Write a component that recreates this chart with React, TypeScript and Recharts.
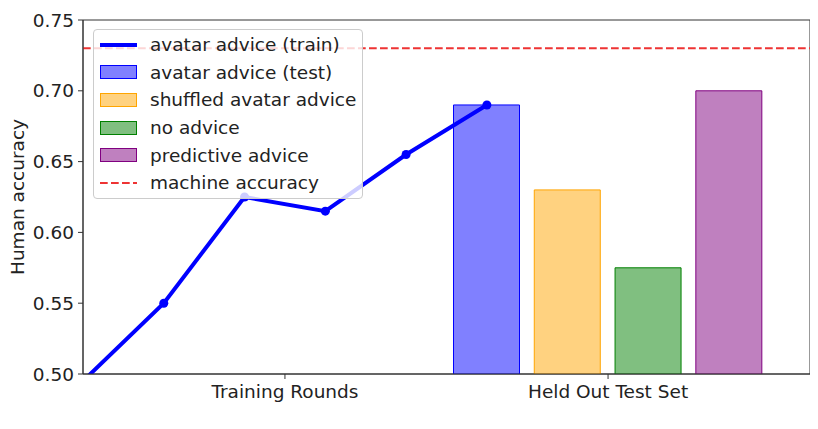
import { ComposedChart, Bar, Cell, Line, XAxis, YAxis, ReferenceLine, ReferenceArea } from "recharts";

// training rounds (line)
const trainRounds = [0, 1, 2, 3, 4, 5];
const trainAccuracy = [0.495, 0.55, 0.625, 0.615, 0.655, 0.69];

// held out test set (bars)
const testPositions = [5, 6, 7, 8];
const testNames = ["avatar advice (test)", "shuffled avatar advice", "no advice", "predictive advice"];
const testAccuracy = [0.69, 0.63, 0.575, 0.7];

const machineAccuracy = 0.73;

const yTicks = [0.5, 0.55, 0.6, 0.65, 0.7, 0.75];
const groupTicks = [2.5, 6.5];
const groupLabels = ["Training Rounds", "Held Out Test Set"];

const barFills = ["#8080ff", "#ffd280", "#80bf80", "#bf80bf"];
const barEdges = ["#0000ff", "#ffa500", "#008000", "#800080"];
const lineColor = "#0000ff";
const dashColor = "#ee3333";

const FONT = "DejaVu Sans";
const TEXT = "#222";
const FS = 18.5;

const rows: Array<{ x: number; train?: number; test?: number; idx?: number }> = [];
for (let x = 0; x <= 8; x++) {
  const row: { x: number; train?: number; test?: number; idx?: number } = { x };
  const ti = trainRounds.indexOf(x);
  if (ti >= 0) row.train = trainAccuracy[ti];
  const bi = testPositions.indexOf(x);
  if (bi >= 0) {
    row.test = testAccuracy[bi];
    row.idx = bi;
  }
  rows.push(row);
}

function LegendBox() {
  const items = [
    { name: "avatar advice (train)", kind: "line" },
    ...testNames.map((n, i) => ({ name: n, kind: "patch", i })),
    { name: "machine accuracy", kind: "dash" },
  ];
  return (
    <div
      style={{
        position: "absolute",
        left: 85,
        top: 21,
        width: 270,
        height: 170,
        border: "1px solid #cccccc",
        borderRadius: 4,
        background: "rgba(255,255,255,0.8)",
        paddingTop: 1,
        boxSizing: "border-box",
        fontFamily: FONT,
        fontSize: FS,
        color: TEXT,
      }}
    >
      {items.map((it: any) => (
        <div key={it.name} style={{ display: "flex", alignItems: "center", height: 27.6 }}>
          <svg width={37} height={14} style={{ marginLeft: 6, marginRight: 13, flex: "none" }}>
            {it.kind === "line" && <line x1={0} y1={7} x2={37} y2={7} stroke={lineColor} strokeWidth={4} />}
            {it.kind === "dash" && (
              <line x1={0} y1={7} x2={37} y2={7} stroke={dashColor} strokeWidth={2} strokeDasharray="7.7 3.3" />
            )}
            {it.kind === "patch" && (
              <rect x={0.5} y={0.5} width={36} height={13} fill={barFills[it.i]} stroke={barEdges[it.i]} strokeWidth={1} />
            )}
          </svg>
          <span style={{ whiteSpace: "nowrap" }}>{it.name}</span>
        </div>
      ))}
    </div>
  );
}

export default function App() {
  return (
    <div style={{ position: "relative", width: 810, height: 421 }}>
      <ComposedChart width={810} height={421} data={rows} margin={{ top: 12, right: 8, left: 0, bottom: 0 }}>
        <XAxis
          dataKey="x"
          type="number"
          domain={[0, 9]}
          ticks={groupTicks}
          tickFormatter={(v: number) => groupLabels[groupTicks.indexOf(v)] ?? ""}
          height={55}
          tickSize={5}
          tickMargin={6}
          stroke="#333"
          tick={{ fill: TEXT, fontSize: FS, fontFamily: FONT }}
          allowDataOverflow
        />
        <YAxis
          type="number"
          domain={[0.5, 0.75]}
          ticks={yTicks}
          allowDataOverflow
          width={75}
          tickSize={5}
          tickMargin={4}
          stroke="#333"
          tickFormatter={(v: number) => v.toFixed(2)}
          tick={{ fill: TEXT, fontSize: FS, fontFamily: FONT }}
          label={{
            content: (props: any) => {
              const vb = props.viewBox || { x: 0, y: 12, width: 75, height: 354 };
              const cx = vb.x + 9.5;
              const cy = vb.y + vb.height / 2;
              return (
                <text
                  x={cx}
                  y={cy}
                  transform={`rotate(-90 ${cx} ${cy})`}
                  textAnchor="middle"
                  dominantBaseline="central"
                  fill={TEXT}
                  fontSize={FS}
                  fontFamily={FONT}
                >
                  Human accuracy
                </text>
              );
            },
          }}
        />
        <ReferenceLine y={machineAccuracy} stroke={dashColor} strokeWidth={2} strokeDasharray="7.7 3.3" />
        <Bar dataKey="test" barSize={66} isAnimationActive={false}>
          {rows.map((r, i) => (
            <Cell
              key={i}
              fill={r.idx !== undefined ? barFills[r.idx] : "none"}
              stroke={r.idx !== undefined ? barEdges[r.idx] : "none"}
              strokeWidth={1}
            />
          ))}
        </Bar>
        <Line
          dataKey="train"
          stroke={lineColor}
          strokeWidth={4}
          dot={{ r: 4.5, fill: lineColor, stroke: lineColor, strokeWidth: 0 }}
          connectNulls
          isAnimationActive={false}
        />
        <ReferenceArea x1={0} x2={9} y1={0.5} y2={0.75} fill="none" stroke="#333" strokeWidth={1} />
      </ComposedChart>
      <LegendBox />
    </div>
  );
}
